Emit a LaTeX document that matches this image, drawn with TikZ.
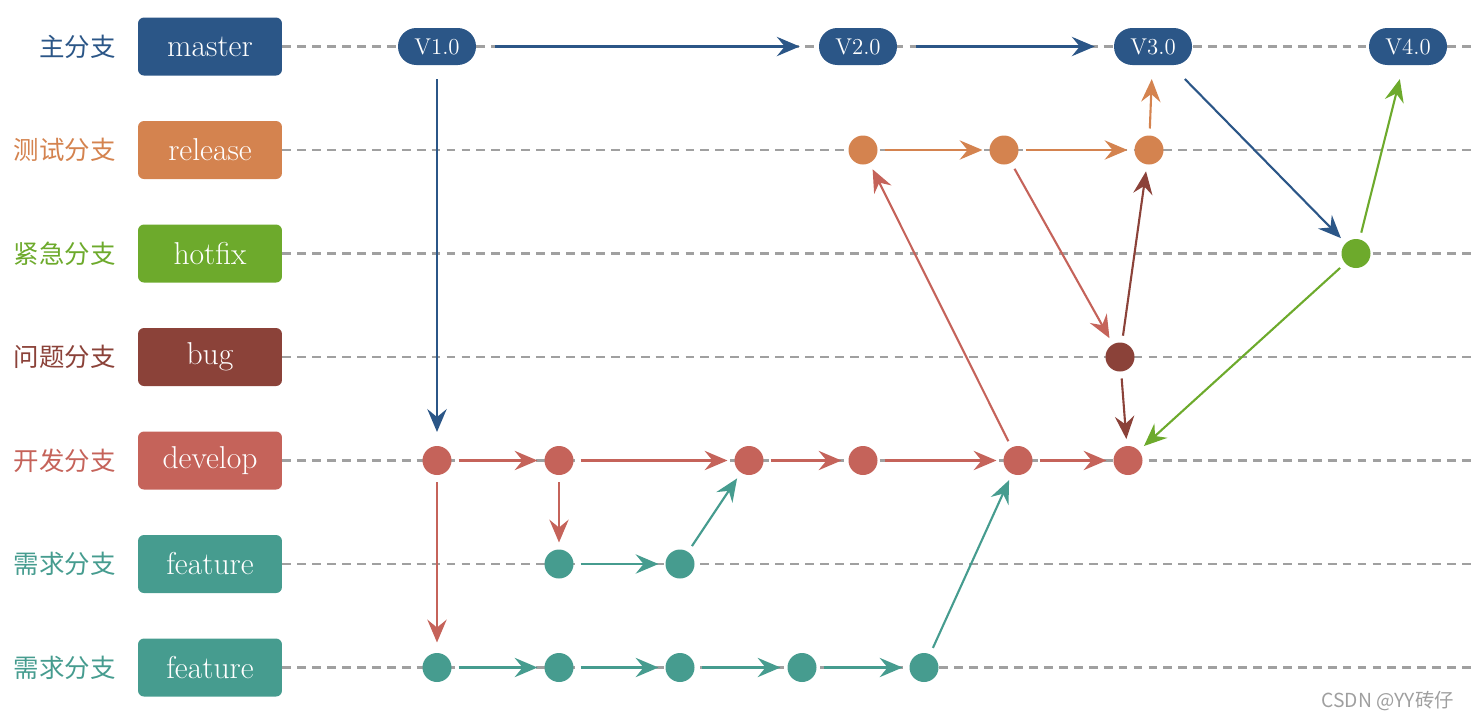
\documentclass[tikz,border=0pt]{standalone}
\usepackage{fontspec}
\newfontfamily\cjk{Noto Sans CJK SC}
\usetikzlibrary{arrows.meta}

\definecolor{cmaster}{HTML}{2B5687}
\definecolor{crelease}{HTML}{D4834F}
\definecolor{chotfix}{HTML}{6DAA2C}
\definecolor{cbug}{HTML}{8B4239}
\definecolor{cdevelop}{HTML}{C5635A}
\definecolor{cfeature}{HTML}{469C8F}
\definecolor{cguide}{HTML}{A0A0A0}

\tikzset{
  branch/.style={rectangle, rounded corners=3.4pt, minimum width=2.88cm, minimum height=1.16cm,
    text=white, font=\fontsize{18}{21}\selectfont},
  side/.style={anchor=east, inner sep=0pt, font=\cjk\fontsize{14.5}{17}\selectfont},
  ver/.style={rectangle, rounded corners=10.4pt, fill=cmaster, minimum width=1.56cm, minimum height=0.74cm,
    text=white, font=\fontsize{13}{15}\selectfont, outer xsep=11pt, outer ysep=8pt},
  dot/.style={circle, minimum size=0.58cm, inner sep=0pt, outer sep=4pt},
  guide/.style={cguide, line width=1.2pt, dash pattern=on 5pt off 3.5pt},
  link/.style={line width=1.2pt, -{Stealth[length=13pt,width=11pt,inset=4.5pt]}}
}

\begin{document}
\begin{tikzpicture}[x=0.02cm,y=-0.02cm]
\useasboundingbox (0,0) rectangle (1474,721);

% branch names
\node[side,text=cmaster]  (lmaster)  at (116,46.5)  {主分支};
\node[side,text=crelease] (lrelease) at (116,150)   {测试分支};
\node[side,text=chotfix]  (lhotfix)  at (116,253.5) {紧急分支};
\node[side,text=cbug]     (lbug)     at (116,357)   {问题分支};
\node[side,text=cdevelop] (ldevelop) at (116,460.5) {开发分支};
\node[side,text=cfeature] (lfeatA)   at (116,564)   {需求分支};
\node[side,text=cfeature] (lfeatB)   at (116,667.5) {需求分支};

\node[branch,fill=cmaster]  (master)  at (210,46.5)  {master};
\node[branch,fill=crelease] (release) at (210,150)   {release};
\node[branch,fill=chotfix]  (hotfix)  at (210,253.5) {hotfix};
\node[branch,fill=cbug]     (bug)     at (210,357)   {bug};
\node[branch,fill=cdevelop] (develop) at (210,460.5) {develop};
\node[branch,fill=cfeature] (featA)   at (210,564)   {feature};
\node[branch,fill=cfeature] (featB)   at (210,667.5) {feature};

% dashed time lines
\coordinate (emaster)  at (1474,46.5);
\coordinate (erelease) at (1474,150);
\coordinate (ehotfix)  at (1474,253.5);
\coordinate (ebug)     at (1474,357);
\coordinate (edevelop) at (1474,460.5);
\coordinate (efeatA)   at (1474,564);
\coordinate (efeatB)   at (1474,667.5);
\draw[guide] (master) -- (emaster);
\draw[guide] (release) -- (erelease);
\draw[guide] (hotfix) -- (ehotfix);
\draw[guide] (bug) -- (ebug);
\draw[guide] (develop) -- (edevelop);
\draw[guide] (featA) -- (efeatA);
\draw[guide] (featB) -- (efeatB);

% versions
\node[ver] (v1) at (437,46.5)  {V1.0};
\node[ver] (v2) at (858,46.5)  {V2.0};
\node[ver] (v3) at (1153,46.5) {V3.0};
\node[ver] (v4) at (1408,46.5) {V4.0};

% commits
\node[dot,fill=crelease] (r1) at (863,150)  {};
\node[dot,fill=crelease] (r2) at (1004,150) {};
\node[dot,fill=crelease] (r3) at (1149,150) {};
\node[dot,fill=chotfix]  (h1) at (1356,253.5) {};
\node[dot,fill=cbug]     (b1) at (1120,357) {};
\node[dot,fill=cdevelop] (d1) at (437,460.5)  {};
\node[dot,fill=cdevelop] (d2) at (559,460.5)  {};
\node[dot,fill=cdevelop] (d3) at (749,460.5)  {};
\node[dot,fill=cdevelop] (d4) at (863,460.5)  {};
\node[dot,fill=cdevelop] (d5) at (1018,460.5) {};
\node[dot,fill=cdevelop] (d6) at (1128,460.5) {};
\node[dot,fill=cfeature] (fa1) at (559,564) {};
\node[dot,fill=cfeature] (fa2) at (680,564) {};
\node[dot,fill=cfeature] (fb1) at (437,667.5) {};
\node[dot,fill=cfeature] (fb2) at (559,667.5) {};
\node[dot,fill=cfeature] (fb3) at (680,667.5) {};
\node[dot,fill=cfeature] (fb4) at (802,667.5) {};
\node[dot,fill=cfeature] (fb5) at (924,667.5) {};

% master
\draw[link,cmaster] (v1) -- (v2);
\draw[link,cmaster] (v2) -- (v3);
\draw[link,cmaster,shorten >=4pt] (v1) -- (d1);
\draw[link,cmaster] (v3) -- (h1);

% release
\draw[link,crelease] (r1) -- (r2);
\draw[link,crelease] (r2) -- (r3);
\draw[link,crelease] (r3) -- (v3);
\draw[link,cdevelop] (r2) -- (b1);

% hotfix and bug
\draw[link,chotfix] (h1) -- (v4);
\draw[link,chotfix] (h1) -- (d6);
\draw[link,cbug] (b1) -- (r3);
\draw[link,cbug] (b1) -- (d6);

% develop
\draw[link,cdevelop] (d1) -- (d2);
\draw[link,cdevelop] (d2) -- (d3);
\draw[link,cdevelop] (d3) -- (d4);
\draw[link,cdevelop] (d4) -- (d5);
\draw[link,cdevelop] (d5) -- (d6);
\draw[link,cdevelop] (d5) -- (r1);
\draw[link,cdevelop] (d2) -- (fa1);
\draw[link,cdevelop,shorten >=2pt] (d1) -- (fb1);

% features
\draw[link,cfeature] (fa1) -- (fa2);
\draw[link,cfeature] (fa2) -- (d3);
\draw[link,cfeature] (fb1) -- (fb2);
\draw[link,cfeature] (fb2) -- (fb3);
\draw[link,cfeature] (fb3) -- (fb4);
\draw[link,cfeature] (fb4) -- (fb5);
\draw[link,cfeature] (fb5) -- (d5);

\node[anchor=east, text=gray!75] (mark) at (1460,701) {\cjk\fontsize{11}{13}\selectfont CSDN @YY砖仔};
\end{tikzpicture}
\end{document}
